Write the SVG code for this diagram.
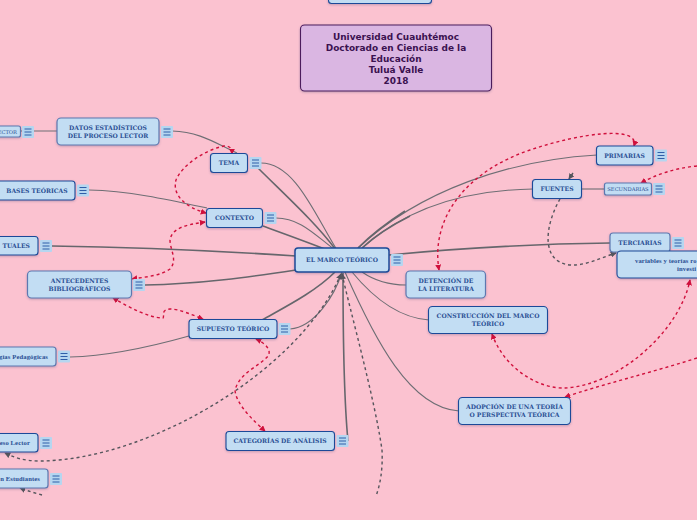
<svg xmlns="http://www.w3.org/2000/svg" width="697" height="520" viewBox="0 0 697 520">
<style>
.bg{fill:#fbc2d0}
.n{fill:#c2ddf3;stroke:#1b4a98;stroke-width:1.1}
.m{fill:#c2ddf3;stroke:#5d78b0;stroke-width:1.2}
.t{font-family:"DejaVu Serif",serif;font-weight:bold;font-size:6.05px;fill:#2a4f94;text-anchor:middle}
.l{font-family:"Liberation Serif",serif;font-size:6.6px;letter-spacing:.12px}
.e{text-anchor:end}
.a{text-anchor:start}
.s{font-weight:normal;font-size:5.2px}
.title{font-family:"DejaVu Sans",sans-serif;font-weight:bold;font-size:8.95px;fill:#3b1150;text-anchor:middle}
.c{fill:none;stroke:#6e6e74;stroke-width:1.1}
.k{fill:none;stroke:#66666c;stroke-width:1.6}
.g{fill:none;stroke:#55555c;stroke-width:1.4;stroke-dasharray:3 3}
.r{fill:none;stroke:#d0103c;stroke-width:1.4;stroke-dasharray:3 3}
.ic{fill:#b5d6f0}
.il{stroke:#2f5ea8;stroke-width:1;fill:none}
</style>
<defs>
<marker id="ar" viewBox="0 0 8 8" refX="7" refY="4" markerWidth="6" markerHeight="6" orient="auto-start-reverse" markerUnits="userSpaceOnUse"><path d="M0 0L8 4L0 8z" fill="#d0103c"/></marker>
<marker id="ag" viewBox="0 0 8 8" refX="7" refY="4" markerWidth="6" markerHeight="6" orient="auto-start-reverse" markerUnits="userSpaceOnUse"><path d="M0 0L8 4L0 8z" fill="#55555c"/></marker>
<filter id="sh" x="-10%" y="-20%" width="120%" height="150%"><feDropShadow dx="0" dy="1" stdDeviation="1" flood-color="#404070" flood-opacity=".3"/></filter>
<g id="menu"><rect class="ic" x="-6" y="-6" width="12" height="12" rx="1"/><path class="il" d="M-3.500 -3H3.500M-3.500 0H3.500M-3.500 3H3.500"/></g>
</defs>
<rect class="bg" width="697" height="520"/>
<g id="connectors">
<path class="c" d="M21 131H57"/>
<path class="c" d="M172 131C200 132 215 143 237 153"/>
<path class="c" d="M261 163C295 163 315 215 337 250"/>
<path class="k" d="M258 168C285 195 315 222 336 250"/>
<path class="c" d="M89 190C130 191 170 200 207 208"/>
<path class="c" d="M276 218C300 218 315 235 335 250"/>
<path class="k" d="M263 226C285 234 310 243 330 251"/>
<path class="k" d="M52 246C130 247 220 251 296 256"/>
<path class="k" d="M145 285C200 284 250 277 296 270"/>
<path class="k" d="M262 320C285 307 315 292 335 272"/>
<path class="c" d="M290 329C315 327 335 295 342 272"/>
<path class="c" d="M70 357C110 356 150 347 189 336"/>
<path class="k" d="M348 441C344 400 343 330 343 273"/>
<path class="c" d="M362 272C375 281 390 285 406 285"/>
<path class="c" d="M352 272C375 300 400 318 429 320"/>
<path class="c" d="M345 272C375 340 410 408 459 411"/>
<path class="c" d="M597 155C510 160 420 190 358 248"/>
<path class="c" d="M533 189C470 190 410 205 362 248"/>
<path class="k" d="M358 248C372 234 388 222 405 211"/>
<path class="k" d="M362 248C375 236 392 225 410 216"/>
<path class="k" d="M610 243C530 244 460 248 389 255"/>
<path class="c" d="M581 189H605"/>
<path class="g" d="M560 199C545 225 540 262 570 265C585 266 600 258 616 253" marker-end="url(#ag)"/>
<path class="g" d="M573 173L569 179" marker-end="url(#ag)"/>
<path class="g" d="M341 274C300 370 150 460 40 461C25 461 15 458 5 453" marker-start="url(#ag)" marker-end="url(#ag)"/>
<path class="g" d="M342 274C350 310 375 400 382 450C383 470 380 485 376 496" marker-start="url(#ag)"/>
<path class="g" d="M42 495C35 493 28 491 20 488" marker-end="url(#ag)"/>
<path class="r" d="M206 213C185 207 172 195 176 180C182 165 205 150 224 146C230 146 232 148 232 154" marker-start="url(#ar)" marker-end="url(#ar)"/>
<path class="r" d="M205 222C185 225 172 228 170 240C170 250 178 260 170 269C160 276 145 277 132 279" marker-start="url(#ar)" marker-end="url(#ar)"/>
<path class="r" d="M113 298C130 308 150 318 163 318C165 316 160 310 170 309C180 309 192 315 203 319" marker-start="url(#ar)" marker-end="url(#ar)"/>
<path class="r" d="M256 339C265 343 272 350 268 356C260 366 240 372 235 390C236 405 255 422 265 431" marker-start="url(#ar)" marker-end="url(#ar)"/>
<path class="r" d="M439 270C430 215 470 170 530 150C580 133 640 125 634 146" marker-start="url(#ar)" marker-end="url(#ar)"/>
<path class="r" d="M697 166C675 168 655 175 641 183" marker-end="url(#ar)"/>
<path class="r" d="M492 334C505 370 540 389 565 388C620 385 680 330 690 280" marker-start="url(#ar)" marker-end="url(#ar)"/>
<path class="r" d="M697 358C650 373 600 385 565 397" marker-end="url(#ar)"/>
</g>
<g id="node-top"><rect class="n" x="328.500" y="-8" width="103" height="11.500" rx="3" filter="url(#sh)"/></g>
<g id="node-title"><rect x="300.500" y="25" width="191" height="66" rx="4" fill="#dab6e2" stroke="#4b1a5c" stroke-width="1.1" filter="url(#sh)"/>
<text class="title" x="396" y="40">Universidad Cuauhtémoc</text><text class="title" x="396" y="51">Doctorado en Ciencias de la</text><text class="title" x="396" y="62">Educación</text><text class="title" x="396" y="73">Tuluá Valle</text><text class="title" x="396" y="84">2018</text></g>
<g id="node-lector"><rect class="m" x="-20" y="126" width="40.500" height="11" rx="2" filter="url(#sh)"/><text class="t s e" x="17" y="134">ECTOR</text><use href="#menu" x="28" y="132"/></g>
<g id="node-datos"><rect class="m" x="57" y="118" width="102" height="27" rx="4" filter="url(#sh)"/><text class="t" x="108" y="130">DATOS ESTADÍSTICOS</text><text class="t" x="108" y="138">DEL PROCESO LECTOR</text><use href="#menu" x="167" y="132"/></g>
<g id="node-tema"><rect class="n" x="210.500" y="153.500" width="37" height="19" rx="3" filter="url(#sh)"/><text class="t" x="229" y="165">TEMA</text><use href="#menu" x="255.500" y="163"/></g>
<g id="node-bases"><rect class="n" x="-20" y="181" width="95" height="19" rx="3" filter="url(#sh)"/><text class="t" x="37" y="193">BASES TEÓRICAS</text><use href="#menu" x="83" y="190.500"/></g>
<g id="node-contexto"><rect class="n" x="206.500" y="208.500" width="56" height="19" rx="3" filter="url(#sh)"/><text class="t" x="234.500" y="220">CONTEXTO</text><use href="#menu" x="270.500" y="218"/></g>
<g id="node-tuales"><rect class="n" x="-20" y="236.500" width="58" height="18.500" rx="3" filter="url(#sh)"/><text class="t e" x="30" y="248">TUALES</text><use href="#menu" x="46" y="246"/></g>
<g id="node-antecedentes"><rect class="m" x="27.500" y="271" width="104" height="27" rx="4" filter="url(#sh)"/><text class="t" x="79.500" y="283">ANTECEDENTES</text><text class="t" x="79.500" y="291">BIBLIOGRÁFICOS</text><use href="#menu" x="139" y="285"/></g>
<g id="node-centro"><rect x="295" y="248" width="94" height="24" rx="3" fill="#c2ddf3" stroke="#1b4a98" stroke-width="1.5" filter="url(#sh)"/><text class="t" x="342" y="262">EL MARCO TEÓRICO</text><use href="#menu" x="397" y="260"/></g>
<g id="node-supuesto"><rect class="n" x="189" y="319.500" width="88" height="19" rx="3" filter="url(#sh)"/><text class="t" x="233" y="331">SUPUESTO TEÓRICO</text><use href="#menu" x="284.500" y="329"/></g>
<g id="node-pedagogicas"><rect class="m" x="-20" y="347" width="76" height="19" rx="3" filter="url(#sh)"/><text class="t l e" x="48" y="359">gías Pedagógicas</text><use href="#menu" x="64" y="356.500"/></g>
<g id="node-proceso"><rect class="n" x="-20" y="433.500" width="58" height="18.500" rx="3" filter="url(#sh)"/><text class="t l e" x="30" y="445">eso Lector</text><use href="#menu" x="46" y="443"/></g>
<g id="node-estudiantes"><rect class="m" x="-20" y="469" width="68" height="19" rx="3" filter="url(#sh)"/><text class="t l e" x="40" y="481">n Estudiantes</text><use href="#menu" x="56" y="479"/></g>
<g id="node-categorias"><rect class="n" x="226" y="431.500" width="108.500" height="19" rx="3" filter="url(#sh)"/><text class="t" x="280" y="443">CATEGORÍAS DE ANÁLISIS</text><use href="#menu" x="342.500" y="441"/></g>
<g id="node-detencion"><rect class="m" x="406" y="271" width="79.500" height="27" rx="4" filter="url(#sh)"/><text class="t" x="446" y="283">DETENCIÓN  DE</text><text class="t" x="446" y="291">LA LITERATURA</text></g>
<g id="node-construccion"><rect class="n" x="428.500" y="306.500" width="119" height="27" rx="4" filter="url(#sh)"/><text class="t" x="488" y="318">CONSTRUCCIÓN DEL MARCO</text><text class="t" x="488" y="326">TEÓRICO</text></g>
<g id="node-adopcion"><rect class="n" x="458.500" y="397.500" width="112" height="27" rx="4" filter="url(#sh)"/><text class="t" x="514.500" y="409">ADOPCIÓN DE UNA TEORÍA</text><text class="t" x="514.500" y="417">O PERSPECTIVA TEÓRICA</text></g>
<g id="node-primarias"><rect class="n" x="596.500" y="146" width="56.500" height="19" rx="3" filter="url(#sh)"/><text class="t" x="624.500" y="158">PRIMARIAS</text><use href="#menu" x="661" y="155.500"/></g>
<g id="node-fuentes"><rect class="n" x="532.500" y="179.500" width="49" height="19" rx="3" filter="url(#sh)"/><text class="t" x="557" y="191">FUENTES</text></g>
<g id="node-secundarias"><rect class="m" x="604.500" y="183" width="47" height="12" rx="2" filter="url(#sh)"/><text class="t s" x="628" y="191">SECUNDARIAS</text><use href="#menu" x="659" y="189"/></g>
<g id="node-terciarias"><rect class="m" x="610" y="233" width="60" height="19" rx="3" filter="url(#sh)"/><text class="t" x="640" y="245">TERCIARIAS</text><use href="#menu" x="678" y="243"/></g>
<g id="node-variables"><rect class="n" x="617" y="251" width="100" height="27" rx="4" filter="url(#sh)"/><text class="t l a" x="635" y="263">variables y teorías ro</text><text class="t l a" x="677" y="271">investi</text></g>
</svg>
